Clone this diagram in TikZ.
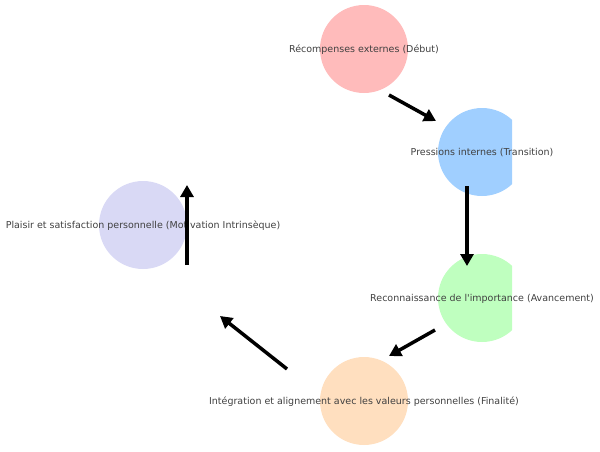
\documentclass[tikz,border=0pt]{standalone}
\usepackage{fontspec}
\setmainfont{DejaVu Sans}[Ligatures=TeXOff]
\usetikzlibrary{arrows.meta}
\definecolor{cpink}{HTML}{FFBBBB}
\definecolor{cblue}{HTML}{A0CFFF}
\definecolor{cgreen}{HTML}{BFFFBF}
\definecolor{corange}{HTML}{FFDFBF}
\definecolor{clav}{HTML}{D9D9F5}
\definecolor{ctext}{HTML}{404040}
\tikzset{
  blob/.style={circle, minimum size=88pt, inner sep=0pt, draw=none},
  lbl/.style={font=\fontsize{9.5}{11}\selectfont, text=ctext, inner sep=0pt, yshift=-0.8pt},
  flow/.style={line width=3.5pt, draw=black, -{Triangle[width=13pt,length=12pt]}}
}
\begin{document}
\begin{tikzpicture}[x=1pt,y=-1pt]
\useasboundingbox (0,0) rectangle (600,451);
\begin{scope}
\clip (0,0) rectangle (512,451);
\node[blob, fill=cpink] (c1) at (364,49) {};
\node[blob, fill=cblue] (c2) at (482,152) {};
\node[blob, fill=cgreen] (c3) at (482,298) {};
\node[blob, fill=corange] (c4) at (364,401) {};
\node[blob, fill=clav] (c5) at (143,225) {};
\end{scope}
\node[lbl] (t1) at (364,49) {Récompenses externes (Début)};
\node[lbl] (t2) at (482,152) {Pressions internes (Transition)};
\node[lbl] (t3) at (482,298) {Reconnaissance de l'importance (Avancement)};
\node[lbl] (t4) at (364,401) {Intégration et alignement avec les valeurs personnelles (Finalité)};
\node[lbl] (t5) at (143,225) {Plaisir et satisfaction personnelle (Motivation Intrinsèque)};
\coordinate (a1s) at (389,95);
\coordinate (a1e) at (436,121);
\coordinate (a2s) at (467,186);
\coordinate (a2e) at (467,266);
\coordinate (a3s) at (435,330);
\coordinate (a3e) at (389,356);
\coordinate (a4s) at (287,369);
\coordinate (a4e) at (220,316);
\coordinate (a5s) at (187,265);
\coordinate (a5e) at (187,185);
\draw[flow] (a1s) -- (a1e);
\draw[flow] (a2s) -- (a2e);
\draw[flow] (a3s) -- (a3e);
\draw[flow] (a4s) -- (a4e);
\draw[flow] (a5s) -- (a5e);
\end{tikzpicture}
\end{document}
